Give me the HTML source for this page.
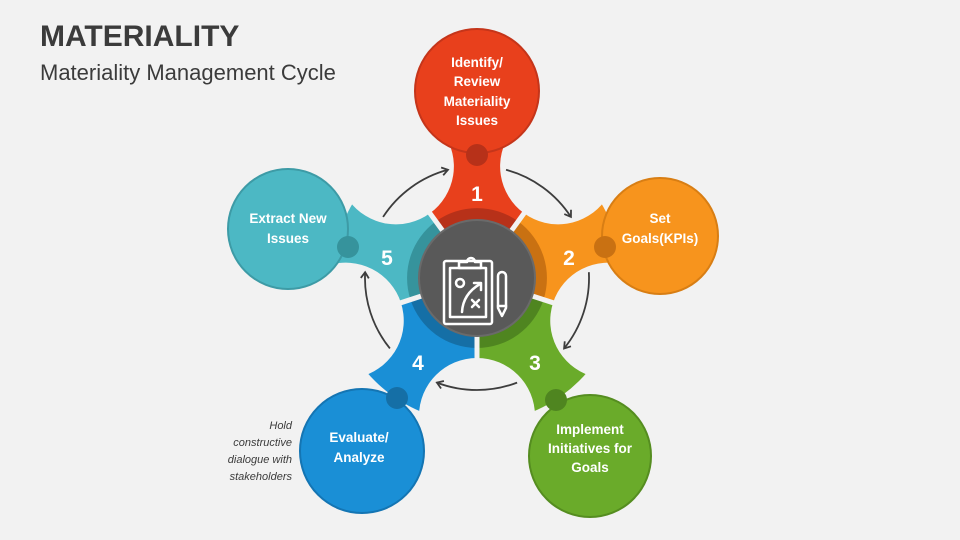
<!DOCTYPE html>
<html><head><meta charset="utf-8"><style>
body{margin:0;background:#f2f2f2;}
svg{display:block}
text{font-family:"Liberation Sans",sans-serif}
</style></head><body>
<svg width="960" height="540" viewBox="0 0 960 540" xmlns="http://www.w3.org/2000/svg">
<defs>
<marker id="ah" markerWidth="10" markerHeight="10" refX="7" refY="5" orient="auto" markerUnits="userSpaceOnUse">
<path d="M1,1 L7,5 L1,9" fill="none" stroke="#3d3d3d" stroke-width="1.8"/>
</marker>
</defs>
<rect width="960" height="540" fill="#f2f2f2"/>

<g transform="translate(477,278)">
  <g fill="#e8401c"><path d="M0,0 L-85.2,-117.3 A145,145 0 0 1 85.2,-117.3 Z"/></g>
  <g transform="rotate(72)" fill="#f7941d"><path d="M0,0 L-85.2,-117.3 A145,145 0 0 1 85.2,-117.3 Z"/></g>
  <g transform="rotate(144)" fill="#6aab2a"><path d="M0,0 L-85.2,-117.3 A145,145 0 0 1 85.2,-117.3 Z"/></g>
  <g transform="rotate(216)" fill="#1a8fd6"><path d="M0,0 L-85.2,-117.3 A145,145 0 0 1 85.2,-117.3 Z"/></g>
  <g transform="rotate(288)" fill="#4cb8c4"><path d="M0,0 L-85.2,-117.3 A145,145 0 0 1 85.2,-117.3 Z"/></g>
  <g><path d="M0,0 L-41.1,-56.6 A70,70 0 0 1 41.1,-56.6 Z" fill="#b73119"/></g>
  <g transform="rotate(72)"><path d="M0,0 L-41.1,-56.6 A70,70 0 0 1 41.1,-56.6 Z" fill="#c97112"/></g>
  <g transform="rotate(144)"><path d="M0,0 L-41.1,-56.6 A70,70 0 0 1 41.1,-56.6 Z" fill="#4f8520"/></g>
  <g transform="rotate(216)"><path d="M0,0 L-41.1,-56.6 A70,70 0 0 1 41.1,-56.6 Z" fill="#156fa6"/></g>
  <g transform="rotate(288)"><path d="M0,0 L-41.1,-56.6 A70,70 0 0 1 41.1,-56.6 Z" fill="#36939c"/></g>
  <g fill="#f2f2f2">
    <circle cx="0" cy="-138" r="58" transform="rotate(36)"/>
    <circle cx="0" cy="-138" r="58" transform="rotate(108)"/>
    <circle cx="0" cy="-138" r="58" transform="rotate(180)"/>
    <circle cx="0" cy="-138" r="58" transform="rotate(252)"/>
    <circle cx="0" cy="-138" r="58" transform="rotate(324)"/>
    <circle cx="0" cy="-200" r="80" transform="rotate(36)"/>
    <circle cx="0" cy="-200" r="80" transform="rotate(108)"/>
    <circle cx="0" cy="-200" r="80" transform="rotate(180)"/>
    <circle cx="0" cy="-200" r="80" transform="rotate(252)"/>
    <circle cx="0" cy="-200" r="80" transform="rotate(324)"/>
  </g>
  <g stroke="#f2f2f2" stroke-width="5">
    <line x1="0" y1="0" x2="0" y2="-90" transform="rotate(36)"/>
    <line x1="0" y1="0" x2="0" y2="-90" transform="rotate(108)"/>
    <line x1="0" y1="0" x2="0" y2="-90" transform="rotate(180)"/>
    <line x1="0" y1="0" x2="0" y2="-90" transform="rotate(252)"/>
    <line x1="0" y1="0" x2="0" y2="-90" transform="rotate(324)"/>
  </g>
  <g fill="none" stroke="#3d3d3d" stroke-width="1.8">
    <path d="M-40.1,-104.6 A112,112 0 0 1 40.1,-104.6" marker-end="url(#ah)" transform="rotate(36)"/>
    <path d="M-40.1,-104.6 A112,112 0 0 1 40.1,-104.6" marker-end="url(#ah)" transform="rotate(108)"/>
    <path d="M-40.1,-104.6 A112,112 0 0 1 40.1,-104.6" marker-end="url(#ah)" transform="rotate(180)"/>
    <path d="M-40.1,-104.6 A112,112 0 0 1 40.1,-104.6" marker-end="url(#ah)" transform="rotate(252)"/>
    <path d="M-40.1,-104.6 A112,112 0 0 1 40.1,-104.6" marker-end="url(#ah)" transform="rotate(324)"/>
  </g>
  <circle r="58" fill="#595959" stroke="#6a6a6a" stroke-width="2"/>
</g>

<circle cx="477" cy="91" r="62" fill="#e8401c" stroke="#c5351a" stroke-width="2"/>
<circle cx="660" cy="236" r="58" fill="#f7941d" stroke="#d87e14" stroke-width="2"/>
<circle cx="590" cy="456" r="61" fill="#6aab2a" stroke="#558d20" stroke-width="2"/>
<circle cx="362" cy="451" r="62" fill="#1a8fd6" stroke="#1475b3" stroke-width="2"/>
<circle cx="288" cy="229" r="60" fill="#4cb8c4" stroke="#3d9ba6" stroke-width="2"/>
<circle cx="477" cy="155" r="11" fill="#b73119"/>
<circle cx="605" cy="247" r="11" fill="#c97112"/>
<circle cx="556" cy="400" r="11" fill="#4f8520"/>
<circle cx="397" cy="398" r="11" fill="#156fa6"/>
<circle cx="348" cy="247" r="11" fill="#36939c"/>

<g font-size="21" font-weight="bold" fill="#fff" text-anchor="middle">
<text x="477" y="201">1</text><text x="569" y="265">2</text><text x="535" y="370">3</text><text x="418" y="370">4</text><text x="387" y="265">5</text>
</g>
<g font-size="13.5" font-weight="bold" fill="#fff" text-anchor="middle">
<text x="477" y="67">Identify/</text><text x="477" y="86">Review</text><text x="477" y="106">Materiality</text><text x="477" y="125">Issues</text>
<text x="660" y="223">Set</text><text x="660" y="243">Goals(KPIs)</text>
<text x="590" y="434">Implement</text><text x="590" y="453">Initiatives for</text><text x="590" y="472">Goals</text>
<text x="359" y="442">Evaluate/</text><text x="359" y="462">Analyze</text>
<text x="288" y="223">Extract New</text><text x="288" y="243">Issues</text>
</g>
<g font-size="11" font-style="italic" fill="#3b3b3b" text-anchor="end">
<text x="292" y="429">Hold</text><text x="292" y="446">constructive</text><text x="292" y="463">dialogue with</text><text x="292" y="480">stakeholders</text>
</g>

<g fill="none" stroke="#fff" stroke-width="2.5" stroke-linejoin="round" stroke-linecap="round">
  <rect x="444" y="261" width="48" height="63" rx="2"/>
  <rect x="450" y="268" width="36" height="49"/>
  <path d="M459,268 v-6 h8 a4,4 0 0 1 8,0 h6 v6 z"/>
  <circle cx="460" cy="283" r="4"/>
  <path d="M462,312 q1,-18 18,-28"/>
  <path d="M474,283 h7 v7"/>
  <path d="M472,300 l7,7 M479,300 l-7,7"/>
  <path d="M498,276 a4,4 0 0 1 8,0 v32 l-4,8 l-4,-8 z"/>
  <path d="M498,306 h8"/>
</g>

<text x="40" y="46" font-size="30" font-weight="bold" fill="#3b3b3b">MATERIALITY</text>
<text x="40" y="80" font-size="22" fill="#3b3b3b">Materiality Management Cycle</text>
</svg>
</body></html>
